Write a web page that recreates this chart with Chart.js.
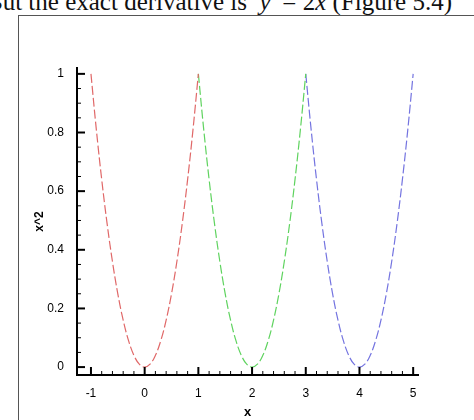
<!DOCTYPE html><html><head><meta charset="utf-8">
<script src="https://cdn.jsdelivr.net/npm/chart.js@4"></script>
<style>
body{margin:0;width:474px;height:420px;overflow:hidden;background:#fff;position:relative}
#cap{position:absolute;left:-14px;top:-12px;font:25px "Liberation Serif",serif;white-space:nowrap;color:#111}
#frame{position:absolute;left:18px;top:15px;width:470px;height:420px;border-left:1px solid #555;border-top:1px solid #555}
canvas{position:absolute;left:0;top:0}
</style></head><body>
<div id="cap">But the exact derivative is &nbsp;<i>y</i>′ = 2<i>x</i> (Figure 5.4)</div>
<div id="frame"></div>
<canvas id="c" width="474" height="420"></canvas>
<script>
const xRed=[-1,-0.9,-0.8,-0.7,-0.6,-0.5,-0.4,-0.3,-0.2,-0.1,0,0.1,0.2,0.3,0.4,0.5,0.6,0.7,0.8,0.9,1];
const xGreen=[1,1.1,1.2,1.3,1.4,1.5,1.6,1.7,1.8,1.9,2,2.1,2.2,2.3,2.4,2.5,2.6,2.7,2.8,2.9,3];
const xBlue=[3,3.1,3.2,3.3,3.4,3.5,3.6,3.7,3.8,3.9,4,4.1,4.2,4.3,4.4,4.5,4.6,4.7,4.8,4.9,5];
const yVals=[1,0.81,0.64,0.49,0.36,0.25,0.16,0.09,0.04,0.01,0,0.01,0.04,0.09,0.16,0.25,0.36,0.49,0.64,0.81,1];
const xTicks=[-1,0,1,2,3,4,5];
const yTicks=[0,0.2,0.4,0.6,0.8,1];
const pts=(xs)=>xs.map((x,i)=>({x:x,y:yVals[i]}));
const ds=(xs,c)=>({data:pts(xs),borderColor:c,borderWidth:1.2,borderDash:[9,3],pointRadius:0,tension:0.4,fill:false});
const minor={id:'minor',afterDraw(ch){const c=ch.ctx,xs=ch.scales.x,ys=ch.scales.y,a=ch.chartArea;
c.save();c.strokeStyle='#000';
for(let v=-1;v<=5.001;v+=0.2){const p=xs.getPixelForValue(v);const maj=Math.abs(v-Math.round(v))<1e-6;c.lineWidth=maj?2:1;c.beginPath();c.moveTo(p,a.bottom);c.lineTo(p,a.bottom-(maj?8:4));c.stroke();}
for(let v=0;v<=1.001;v+=0.05){const p=ys.getPixelForValue(v);const maj=Math.abs(v*5-Math.round(v*5))<1e-6;c.lineWidth=maj?2:1;c.beginPath();c.moveTo(a.left,p);c.lineTo(a.left+(maj?8:4),p);c.stroke();}
c.restore();}};
new Chart(document.getElementById('c'),{type:'line',
data:{datasets:[ds(xRed,'#e06868'),ds(xGreen,'#5fd35f'),ds(xBlue,'#7474e0')]},
options:{responsive:false,animation:false,plugins:{legend:{display:false},tooltip:{enabled:false}},
layout:{padding:{left:32,top:68,right:56,bottom:0}},
scales:{
x:{type:'linear',min:-1.26,max:5.09,afterBuildTicks:s=>{s.ticks=xTicks.map(v=>({value:v}))},afterFit:s=>{s.height=45},
grid:{display:false},border:{display:true,color:'#000',width:2},
ticks:{color:'#000',padding:3,font:{family:'Liberation Sans',size:12}},
title:{display:true,text:'x',color:'#000',padding:0,font:{family:'Liberation Sans',size:13,weight:'bold'}}},
y:{type:'linear',min:-0.027,max:1.02,afterBuildTicks:s=>{s.ticks=yTicks.map(v=>({value:v}))},afterFit:s=>{s.width=45},
grid:{display:false},border:{display:true,color:'#000',width:2},
ticks:{color:'#000',padding:5,font:{family:'Liberation Sans',size:12},callback:v=>String(v)},
title:{display:true,text:'x^2',color:'#000',padding:0,font:{family:'Liberation Sans',size:12,weight:'bold'}}}}},
plugins:[minor]});
</script></body></html>
